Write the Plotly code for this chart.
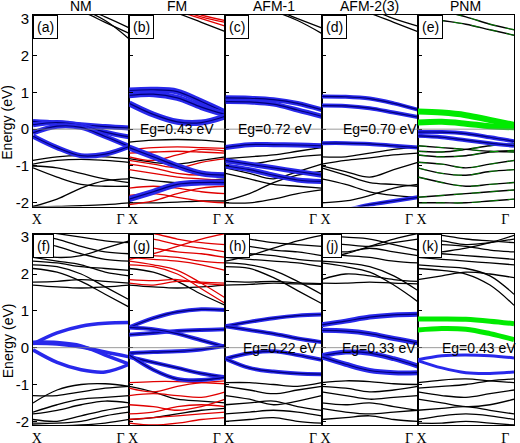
import plotly.graph_objects as go
from plotly.subplots import make_subplots

# k-path sampled at X, 1/4, 1/2, 3/4, Gamma
k = [0, 0.25, 0.5, 0.75, 1]

titles = ["NM", "FM", "AFM-1", "AFM-2(3)", "PNM"]
labels_top = ["(a)", "(b)", "(c)", "(d)", "(e)"]
labels_bot = ["(f)", "(g)", "(h)", "(j)", "(k)"]
gaps_top = [None, "Eg=0.43 eV", "Eg=0.72 eV", "Eg=0.70 eV", None]
gaps_bot = [None, None, "Eg=0.22 eV", "Eg=0.33 eV", "Eg=0.43 eV"]
gap_pos_top = [None, 0.50, 0.52, 0.61, None]
gap_pos_bot = [None, None, 0.57, 0.60, 0.64]
ytick_vals = [-2, -1, 0, 1, 2, 3]
ytick_text = ["-2", "-1", "0", "1", "2", "3"]
ktick_vals = [0.04, 0.91]
ktick_text = ["X", "Γ"]

# ---- (a) NM, top row
a_black = [[-0.85, -0.75, -0.72, -0.75, -0.80], [-0.95, -0.85, -0.82, -0.85, -0.90],
           [-1.00, -1.05, -1.20, -1.35, -1.45], [-1.05, -1.30, -1.50, -1.55, -1.55],
           [-2.10, -1.90, -1.60, -1.40, -1.35], [-2.10, -2.10, -2.08, -2.05, -2.00],
           [3.4, 3.35, 3.2, 2.9, 2.6], [3.4, 3.35, 3.25, 2.95, 2.45], [3.4, 3.4, 3.3, 3.05, 2.75]]
a_blue = [[0.21, 0.17, 0.12, 0.07, 0.03], [0.12, 0.18, 0.10, -0.08, -0.21],
          [-0.10, 0.08, 0.05, -0.20, -0.47], [-0.19, -0.50, -0.72, -0.68, -0.47]]

# ---- (b) FM, top row
b_black = [[-0.35, -0.30, -0.28, -0.30, -0.35], [-0.80, -0.90, -0.95, -0.85, -0.75],
           [-1.30, -1.40, -1.45, -1.40, -1.35], [-2.00, -2.00, -1.98, -1.95, -1.95],
           [3.4, 3.35, 3.15, 2.9, 2.65]]
b_red = [[-0.55, -0.50, -0.48, -0.50, -0.52], [-0.65, -0.62, -0.60, -0.62, -0.65],
         [-0.75, -0.85, -0.70, -0.55, -0.60], [-0.85, -0.95, -1.05, -0.90, -0.80],
         [-0.95, -1.05, -1.20, -1.25, -1.20], [-1.10, -1.20, -1.30, -1.35, -1.40],
         [-1.60, -1.55, -1.60, -1.70, -1.75], [-1.80, -1.75, -1.85, -1.95, -2.00],
         [-2.05, -1.95, -1.75, -1.60, -1.55],
         [3.4, 3.35, 3.2, 3.0, 2.8], [3.4, 3.35, 3.25, 3.05, 2.9], [3.4, 3.4, 3.3, 3.1, 2.95]]
b_blue = [[1.05, 1.07, 1.02, 0.75, 0.45], [0.92, 0.95, 0.85, 0.60, 0.40],
          [0.70, 0.40, 0.20, 0.18, 0.35], [-0.50, -0.75, -1.00, -1.20, -1.25],
          [-1.90, -1.70, -1.50, -1.45, -1.45]]

# ---- (c) AFM-1, top row
c_black = [[-0.80, -0.75, -0.70, -0.60, -0.50], [-0.90, -0.95, -0.85, -0.75, -0.70],
           [-1.05, -1.20, -1.35, -1.15, -0.95], [-1.20, -1.35, -1.50, -1.55, -1.60],
           [-2.00, -2.00, -1.90, -1.75, -1.65], [-1.95, -1.75, -1.45, -1.25, -1.15],
           [3.4, 3.35, 3.2, 2.95, 2.6], [3.4, 3.35, 3.25, 3.0, 2.75]]
c_blue = [[0.85, 0.84, 0.80, 0.70, 0.53], [0.75, 0.74, 0.68, 0.52, 0.35],
          [-0.50, -0.42, -0.42, -0.43, -0.45], [-0.85, -0.95, -1.05, -1.15, -1.25],
          [-1.00, -1.10, -1.25, -1.38, -1.42]]

# ---- (d) AFM-2(3), top row
d_black = [[-0.75, -0.75, -0.65, -0.55, -0.48], [-0.95, -0.85, -0.78, -0.70, -0.65],
           [-1.00, -1.15, -1.30, -1.10, -0.90], [-1.05, -1.25, -1.45, -1.50, -1.55],
           [-1.35, -1.50, -1.70, -1.80, -1.85], [-2.00, -1.95, -1.80, -1.60, -1.50],
           [3.4, 3.35, 3.15, 2.9, 2.65], [3.4, 3.35, 3.25, 3.0, 2.8]]
d_blue = [[0.89, 0.88, 0.83, 0.70, 0.53], [0.64, 0.63, 0.57, 0.45, 0.33],
          [-0.38, -0.38, -0.40, -0.45, -0.50], [-2.30, -2.20, -2.05, -1.95, -1.85]]

# ---- (e) PNM, top row
e_black = [[-0.45, -0.50, -0.55, -0.60, -0.62], [-0.60, -0.62, -0.55, -0.45, -0.40],
           [-0.70, -0.75, -0.72, -0.62, -0.58], [-0.90, -0.95, -1.05, -0.95, -0.85],
           [-1.05, -1.20, -1.25, -1.15, -1.10], [-1.30, -1.45, -1.55, -1.50, -1.45],
           [-1.85, -1.80, -1.75, -1.70, -1.65], [-2.00, -2.00, -2.00, -1.95, -1.90],
           [3.05, 2.95, 2.85, 2.70, 2.55], [3.3, 3.2, 3.05, 2.85, 2.70]]
e_green = [[0.48, 0.45, 0.38, 0.25, 0.12], [0.18, 0.20, 0.15, 0.08, 0.05]]
e_blue = [[-0.08, -0.08, -0.12, -0.22, -0.33], [-0.18, -0.22, -0.30, -0.38, -0.45]]

# ---- (f) NM, bottom row
f_black = [[1.70, 1.65, 1.62, 1.65, 1.70], [1.78, 1.80, 1.85, 1.80, 1.75],
           [2.15, 2.05, 1.80, 1.45, 1.10], [2.25, 2.20, 2.00, 1.65, 1.30],
           [2.35, 2.30, 2.20, 2.15, 2.10], [2.45, 2.35, 2.25, 2.05, 1.95],
           [2.55, 2.45, 2.50, 2.70, 2.90], [2.90, 2.75, 2.55, 2.40, 2.35],
           [3.05, 2.95, 2.75, 2.60, 2.55], [3.20, 3.10, 3.00, 2.90, 2.85],
           [-1.50, -1.15, -1.00, -0.98, -1.05], [-1.30, -1.30, -1.20, -1.10, -1.05],
           [-1.75, -1.55, -1.40, -1.35, -1.30], [-1.80, -1.70, -1.55, -1.45, -1.50],
           [-1.95, -2.00, -1.85, -1.70, -1.60], [-2.05, -2.05, -2.00, -1.85, -1.75],
           [-2.10, -2.12, -2.10, -2.05, -1.95]]
f_blue = [[0.10, 0.40, 0.58, 0.66, 0.68], [0.12, 0.10, 0.02, -0.12, -0.25],
          [0.15, 0.14, 0.05, -0.20, -0.45], [-0.06, -0.40, -0.60, -0.66, -0.45]]

# ---- (g) FM, bottom row
g_black = [[1.70, 1.65, 1.62, 1.65, 1.70], [2.15, 2.05, 1.80, 1.45, 1.15],
           [-1.05, -1.20, -1.40, -1.45, -1.50], [-1.95, -1.90, -1.80, -1.70, -1.65]]
g_red = [[1.75, 1.70, 1.80, 1.78, 1.75], [1.85, 1.82, 1.85, 1.75, 1.70],
         [2.25, 2.20, 2.00, 1.60, 1.20], [2.35, 2.25, 2.10, 1.75, 1.35],
         [2.45, 2.40, 2.35, 2.25, 2.10], [2.55, 2.50, 2.45, 2.35, 2.30],
         [2.80, 2.70, 2.60, 2.55, 2.45], [3.00, 2.95, 2.80, 2.70, 2.60],
         [3.15, 3.10, 2.95, 2.85, 2.80], [2.40, 2.55, 2.75, 2.95, 3.10],
         [-0.95, -0.92, -0.92, -0.95, -0.98], [-1.10, -1.20, -1.05, -0.95, -0.90],
         [-1.30, -1.25, -1.30, -1.35, -1.20], [-1.55, -1.60, -1.70, -1.60, -1.40],
         [-1.80, -1.75, -1.60, -1.55, -1.60], [-1.95, -1.90, -1.85, -1.80, -1.75],
         [-2.05, -2.10, -2.05, -1.95, -1.90]]
g_blue = [[0.55, 0.80, 0.97, 1.04, 1.02], [0.35, 0.40, 0.45, 0.48, 0.50],
          [0.55, 0.50, 0.38, 0.20, 0.02], [-0.15, -0.12, -0.10, -0.05, 0.05],
          [-0.25, -0.40, -0.55, -0.70, -0.80], [-0.20, -0.60, -0.85, -0.88, -0.80]]

# ---- (h) AFM-1, bottom row
h_black = [[1.70, 1.72, 1.75, 1.73, 1.72], [1.80, 1.78, 1.80, 1.76, 1.74],
           [2.20, 2.15, 1.90, 1.55, 1.20], [2.30, 2.25, 2.10, 1.80, 1.45],
           [2.45, 2.40, 2.35, 2.30, 2.20], [2.60, 2.55, 2.50, 2.40, 2.35],
           [2.85, 2.75, 2.65, 2.60, 2.50], [3.05, 2.95, 2.85, 2.80, 2.75],
           [2.35, 2.50, 2.70, 2.90, 3.05],
           [-0.95, -0.95, -1.00, -1.05, -0.95], [-1.05, -1.15, -1.25, -1.15, -1.05],
           [-1.30, -1.40, -1.55, -1.45, -1.30], [-1.55, -1.50, -1.45, -1.60, -1.70],
           [-1.80, -1.75, -1.70, -1.75, -1.85], [-2.00, -1.95, -1.90, -2.00, -2.05]]
h_blue = [[0.58, 0.70, 0.80, 0.87, 0.90], [0.58, 0.48, 0.38, 0.25, 0.15],
          [-0.30, -0.15, -0.10, -0.20, -0.33], [-0.30, -0.55, -0.65, -0.70, -0.72]]

# ---- (j) AFM-2(3), bottom row
j_black = [[1.85, 2.00, 1.95, 1.85, 1.80], [1.75, 1.75, 1.78, 1.75, 1.73],
           [2.30, 2.20, 2.05, 1.70, 1.25], [2.35, 2.30, 2.20, 1.95, 1.55],
           [2.55, 2.50, 2.45, 2.35, 2.30], [2.65, 2.60, 2.70, 2.60, 2.50],
           [2.85, 2.80, 2.75, 2.85, 2.95], [3.05, 3.00, 2.95, 2.80, 2.65],
           [2.45, 2.55, 2.75, 2.95, 3.10],
           [-0.95, -0.90, -0.92, -0.98, -1.00], [-1.05, -1.10, -1.20, -1.15, -1.05],
           [-1.20, -1.30, -1.40, -1.35, -1.30], [-1.50, -1.55, -1.50, -1.60, -1.70],
           [-1.65, -1.75, -1.80, -1.75, -1.70], [-1.95, -1.90, -1.85, -1.95, -2.00]]
j_blue = [[0.62, 0.72, 0.83, 0.89, 0.91], [0.47, 0.45, 0.38, 0.25, 0.13],
          [-0.22, -0.12, -0.15, -0.30, -0.50], [-0.25, -0.45, -0.62, -0.68, -0.68]]

# ---- (k) PNM, bottom row
k_black = [[1.85, 1.95, 2.05, 2.00, 1.90], [2.15, 2.10, 2.00, 1.70, 1.15],
           [2.25, 2.20, 2.15, 1.95, 1.45], [2.45, 2.40, 2.35, 2.30, 2.25],
           [2.60, 2.55, 2.50, 2.45, 2.40], [2.75, 2.80, 2.75, 2.65, 2.60],
           [2.95, 2.90, 2.80, 2.85, 2.95], [3.10, 3.05, 2.95, 2.90, 2.85],
           [2.50, 2.60, 2.70, 2.85, 3.05],
           [-0.95, -0.88, -0.85, -0.90, -0.95], [-1.10, -1.05, -1.00, -0.90, -0.85],
           [-1.20, -1.30, -1.35, -1.25, -1.15], [-1.40, -1.50, -1.60, -1.55, -1.40],
           [-1.70, -1.65, -1.60, -1.70, -1.80], [-1.95, -1.85, -1.80, -1.85, -1.95],
           [-2.05, -2.05, -2.00, -2.05, -2.10]]
k_green = [[0.78, 0.78, 0.77, 0.72, 0.65], [0.48, 0.52, 0.50, 0.38, 0.22]]
k_blue = [[-0.33, -0.22, -0.20, -0.22, -0.28], [-0.35, -0.55, -0.68, -0.70, -0.66]]

BLACK = "black"
RED = "rgb(225,0,0)"
BLUE = "rgb(40,40,235)"
NAVY = "rgb(0,0,120)"
GREEN = "rgb(0,235,0)"

fig = make_subplots(rows=2, cols=5, shared_yaxes=True,
                    horizontal_spacing=0, vertical_spacing=27 / 410)


def add_bands(bands, row, col, color, width, core=None, dash=None):
    for e in bands:
        fig.add_trace(go.Scatter(x=k, y=e, mode="lines", hoverinfo="skip",
                                 line=dict(color=color, width=width, shape="spline", dash=dash)),
                      row=row, col=col)
        if core:
            fig.add_trace(go.Scatter(x=k, y=e, mode="lines", hoverinfo="skip",
                                     line=dict(color=core, width=1.2, shape="spline")),
                          row=row, col=col)


# top row
add_bands(a_black, 1, 1, BLACK, 1.3)
add_bands(a_blue, 1, 1, BLUE, 5, NAVY)
add_bands(b_black, 1, 2, BLACK, 1.3)
add_bands(b_red, 1, 2, RED, 1.3)
add_bands(b_blue, 1, 2, BLUE, 6, NAVY)
add_bands(c_black, 1, 3, BLACK, 1.3)
add_bands(c_blue, 1, 3, BLUE, 5, NAVY)
add_bands(d_black, 1, 4, BLACK, 1.3)
add_bands(d_blue, 1, 4, BLUE, 4, NAVY)
add_bands(e_black, 1, 5, BLACK, 1.4)
add_bands(e_black, 1, 5, "rgb(0,170,0)", 0.7, dash="dash")
add_bands(e_green, 1, 5, GREEN, 6)
add_bands(e_blue, 1, 5, BLUE, 4, NAVY)
# bottom row
add_bands(f_black, 2, 1, BLACK, 1.3)
add_bands(f_blue, 2, 1, BLUE, 3.5)
add_bands(g_black, 2, 2, BLACK, 1.3)
add_bands(g_red, 2, 2, RED, 1.3)
add_bands(g_blue, 2, 2, BLUE, 4, NAVY)
add_bands(h_black, 2, 3, BLACK, 1.3)
add_bands(h_blue, 2, 3, BLUE, 4, NAVY)
add_bands(j_black, 2, 4, BLACK, 1.3)
add_bands(j_blue, 2, 4, BLUE, 5, NAVY)
add_bands(k_black, 2, 5, BLACK, 1.3)
add_bands(k_green, 2, 5, GREEN, 5)
add_bands(k_blue, 2, 5, BLUE, 3)

fig.update_xaxes(range=[0, 1], tickvals=ktick_vals, ticktext=ktick_text, ticks="",
                 tickfont=dict(family="Liberation Serif", size=14, color="black"),
                 ticklabelstandoff=0, automargin=False,
                 showgrid=False, zeroline=False, showline=True, linecolor="black",
                 linewidth=1, mirror=True)
fig.update_yaxes(range=[-2.1, 3.1], tickvals=ytick_vals, ticktext=ytick_text,
                 ticks="inside", ticklen=4, tickcolor="black", showgrid=False, automargin=False,
                 zeroline=False, showline=True, linecolor="black", linewidth=1, mirror=True,
                 tickfont=dict(family="Liberation Sans", size=15, color="black"))

annotations = []
for r, labs, gaps, gpos in [(1, labels_top, gaps_top, gap_pos_top),
                            (2, labels_bot, gaps_bot, gap_pos_bot)]:
    for c in range(5):
        n = (r - 1) * 5 + c + 1
        xs = "x" if n == 1 else f"x{n}"
        ys = "y" if n == 1 else f"y{n}"
        fig.add_hline(y=0, line=dict(color="gray", width=0.8), row=r, col=c + 1)
        annotations.append(dict(x=0, y=1, xref=f"{xs} domain", yref=f"{ys} domain",
                                xanchor="left", yanchor="top", text=labs[c], showarrow=False,
                                bgcolor="white", bordercolor="black", borderwidth=1, borderpad=3,
                                font=dict(family="Liberation Sans", size=14, color="black")))
        if gaps[c]:
            annotations.append(dict(x=gpos[c], y=0, xref=f"{xs} domain", yref=ys,
                                    xanchor="center", yanchor="middle", text=gaps[c],
                                    showarrow=False,
                                    font=dict(family="Liberation Sans", size=14, color="black")))
    annotations.append(dict(x=-0.053, y=0.44, xref="paper", yref=("y domain" if r == 1 else "y6 domain"),
                            textangle=-90, text="Energy (eV)", showarrow=False,
                            xanchor="center", yanchor="middle",
                            font=dict(family="Liberation Sans", size=14, color="black")))

for c in range(5):
    xs = "x" if c == 0 else f"x{c + 1}"
    annotations.append(dict(x=0.5, y=1, xref=f"{xs} domain", yref="y domain",
                            xanchor="center", yanchor="bottom", yshift=-1, text=titles[c],
                            showarrow=False,
                            font=dict(family="Liberation Sans", size=14, color="black")))

fig.update_layout(width=520, height=443, showlegend=False,
                  margin=dict(l=33, r=6, t=15, b=18, autoexpand=False),
                  plot_bgcolor="white", paper_bgcolor="white",
                  annotations=annotations)

# the page's default body margin would push the figure 8px down and right
fig.write_html("out.html", config={"displayModeBar": False},
               post_script="document.body.style.margin='0';")
